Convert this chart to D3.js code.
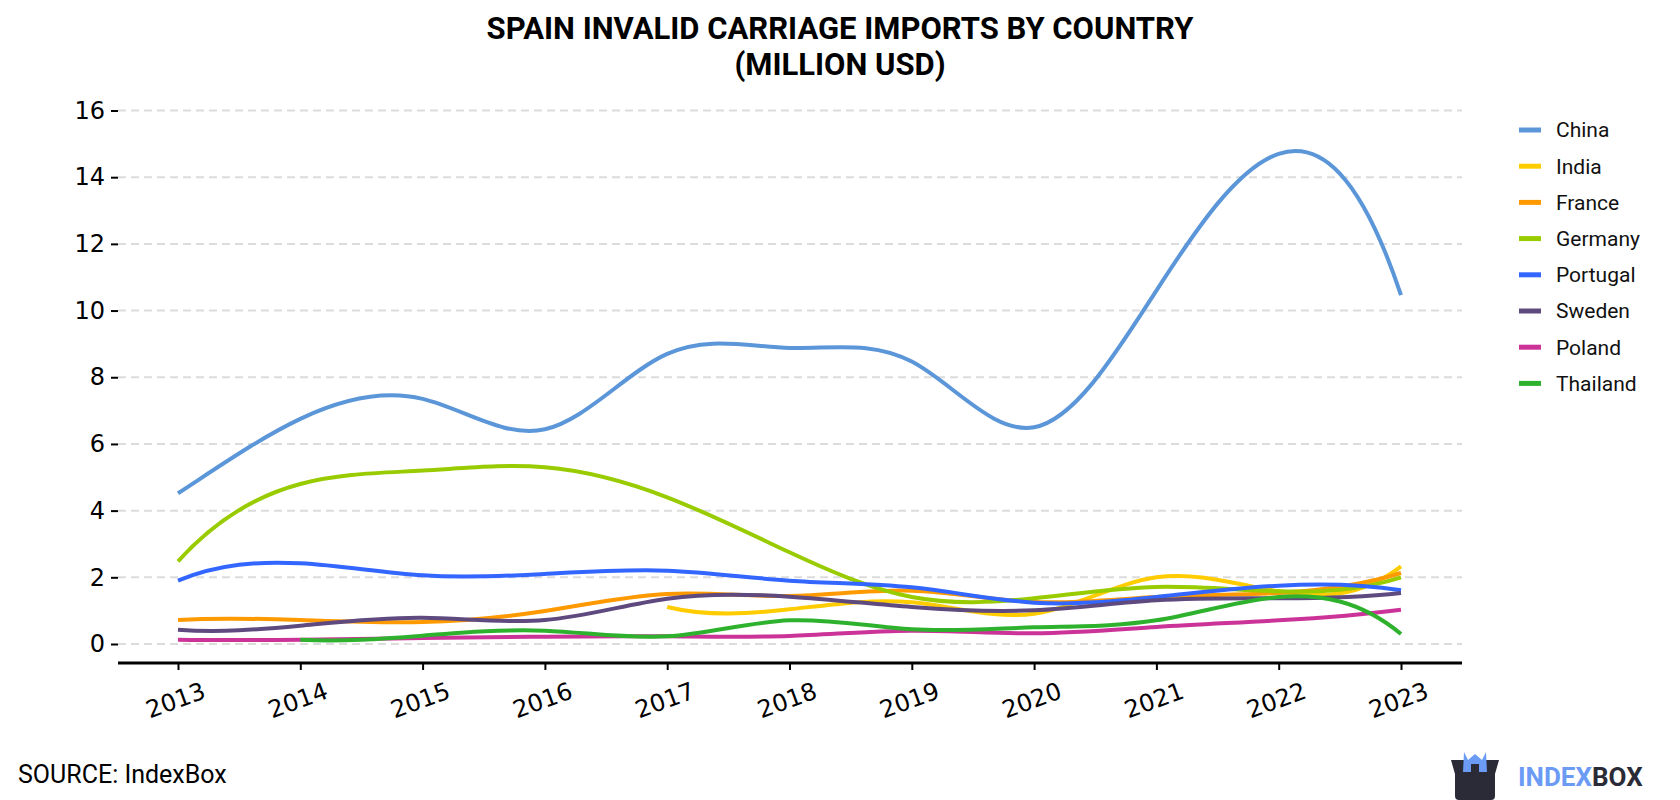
<!DOCTYPE html>
<html>
<head>
<meta charset="utf-8">
<script src="https://cdn.jsdelivr.net/npm/d3@7"></script>
<style>
  body { margin: 0; background: #fff; }
  svg { display: block; }
</style>
</head>
<body>
<svg id="chart" width="1680" height="800"></svg>
<script>
// years on the x axis
const years = [2013, 2014, 2015, 2016, 2017, 2018, 2019, 2020, 2021, 2022, 2023]

// values in million USD, null = no data
const china    = [4.52, 6.75, 7.35, 6.44, 8.7, 8.88, 8.47, 6.5, 10.6, 14.7, 10.46]
const india    = [null, null, null, null, 1.11, 1.04, 1.25, 0.91, 2.0, 1.58, 2.33]
const france   = [0.72, 0.72, 0.66, 0.99, 1.5, 1.44, 1.6, 1.26, 1.41, 1.53, 2.13]
const germany  = [2.48, 4.8, 5.2, 5.3, 4.4, 2.75, 1.41, 1.37, 1.71, 1.58, 2.0]
const portugal = [1.9, 2.42, 2.06, 2.1, 2.2, 1.9, 1.7, 1.24, 1.41, 1.75, 1.61]
const sweden   = [0.43, 0.55, 0.79, 0.72, 1.36, 1.42, 1.11, 1.01, 1.31, 1.37, 1.53]
const poland   = [0.13, 0.13, 0.18, 0.22, 0.23, 0.24, 0.4, 0.32, 0.51, 0.71, 1.03]
const thailand = [null, 0.13, 0.25, 0.4, 0.23, 0.71, 0.44, 0.5, 0.71, 1.41, 0.3]

const yTicks = [0, 2, 4, 6, 8, 10, 12, 14, 16]

const series = [
  { name: 'China', values: china, color: '#5b96d8' },
  { name: 'India', values: india, color: '#ffcc00' },
  { name: 'France', values: france, color: '#ff9900' },
  { name: 'Germany', values: germany, color: '#99cc00' },
  { name: 'Portugal', values: portugal, color: '#3366ff' },
  { name: 'Sweden', values: sweden, color: '#5e4a7e' },
  { name: 'Poland', values: poland, color: '#cc3399' },
  { name: 'Thailand', values: thailand, color: '#2eb22e' },
]

// cubic spline with "not-a-knot" ends, as a d3 curve
function splineSlopes(xs, ys) {
  const n = xs.length
  const h = [], d = []
  for (let i = 0; i < n - 1; i++) {
    h.push(xs[i + 1] - xs[i])
    d.push((ys[i + 1] - ys[i]) / h[i])
  }
  const A = Array.from({ length: n }, () => new Array(n).fill(0))
  const b = new Array(n).fill(0)
  A[0][0] = h[1]; A[0][1] = -(h[0] + h[1]); A[0][2] = h[0]
  for (let i = 1; i < n - 1; i++) {
    A[i][i - 1] = h[i - 1]
    A[i][i] = 2 * (h[i - 1] + h[i])
    A[i][i + 1] = h[i]
    b[i] = 6 * (d[i] - d[i - 1])
  }
  A[n - 1][n - 3] = h[n - 2]; A[n - 1][n - 2] = -(h[n - 3] + h[n - 2]); A[n - 1][n - 1] = h[n - 3]
  // gaussian elimination
  for (let c = 0; c < n; c++) {
    let p = c
    for (let r = c + 1; r < n; r++) if (Math.abs(A[r][c]) > Math.abs(A[p][c])) p = r
    ;[A[c], A[p]] = [A[p], A[c]]
    ;[b[c], b[p]] = [b[p], b[c]]
    for (let r = c + 1; r < n; r++) {
      const f = A[r][c] / A[c][c]
      for (let k = c; k < n; k++) A[r][k] -= f * A[c][k]
      b[r] -= f * b[c]
    }
  }
  const M = new Array(n).fill(0)
  for (let r = n - 1; r >= 0; r--) {
    let s = b[r]
    for (let k = r + 1; k < n; k++) s -= A[r][k] * M[k]
    M[r] = s / A[r][r]
  }
  const m = []
  for (let i = 0; i < n - 1; i++) m.push(d[i] - (h[i] * (2 * M[i] + M[i + 1])) / 6)
  m.push(d[n - 2] + (h[n - 2] * (M[n - 2] + 2 * M[n - 1])) / 6)
  return m
}

function curveNotAKnot(context) {
  let xs, ys
  return {
    areaStart() {},
    areaEnd() {},
    lineStart() { xs = []; ys = [] },
    point(x, y) { xs.push(+x); ys.push(+y) },
    lineEnd() {
      const n = xs.length
      if (!n) return
      context.moveTo(xs[0], ys[0])
      if (n < 4) {
        for (let i = 1; i < n; i++) context.lineTo(xs[i], ys[i])
        return
      }
      const m = splineSlopes(xs, ys)
      for (let i = 0; i < n - 1; i++) {
        const h = xs[i + 1] - xs[i]
        context.bezierCurveTo(
          xs[i] + h / 3, ys[i] + (m[i] * h) / 3,
          xs[i + 1] - h / 3, ys[i + 1] - (m[i + 1] * h) / 3,
          xs[i + 1], ys[i + 1]
        )
      }
    },
  }
}

const svg = d3.select('#chart')

// background
svg.append('rect').attr('width', 1680).attr('height', 800).attr('fill', '#fff')

// title
const title = svg.append('text')
  .attr('text-anchor', 'middle')
  .attr('font-family', 'Roboto, sans-serif')
  .attr('font-weight', 'bold')
  .attr('font-size', 31)
  .attr('fill', '#000')
title.append('tspan').attr('x', 840).attr('y', 39).text('SPAIN INVALID CARRIAGE IMPORTS BY COUNTRY')
title.append('tspan').attr('x', 840).attr('y', 75).text('(MILLION USD)')

// scales
const x = d3.scaleLinear().domain([2013, 2023]).range([178, 1401])
const y = d3.scaleLinear().domain([0, 16]).range([644, 110.5])
const plotLeft = 118
const plotRight = 1462
const axisY = 663

// grid lines
svg.append('g')
  .attr('id', 'grid')
  .selectAll('line')
  .data(yTicks)
  .join('line')
  .attr('x1', plotLeft)
  .attr('x2', plotRight)
  .attr('y1', (d) => y(d))
  .attr('y2', (d) => y(d))
  .attr('stroke', '#dcdcdc')
  .attr('stroke-width', 2)
  .attr('stroke-dasharray', '8,5')

// y axis: tick marks and labels only
const yAxis = svg.append('g')
  .attr('transform', `translate(${plotLeft},0)`)
  .call(d3.axisLeft(y).tickValues(yTicks).tickSize(7).tickPadding(6))
yAxis.select('.domain').remove()
yAxis.selectAll('.tick line').attr('stroke', '#000').attr('stroke-width', 2)
yAxis.selectAll('.tick text')
  .attr('font-family', 'DejaVu Sans, sans-serif')
  .attr('font-size', 24)
  .attr('fill', '#000')

// x axis
const xAxis = svg.append('g')
  .attr('transform', `translate(0,${axisY})`)
  .call(d3.axisBottom(x).tickValues(years).tickFormat(d3.format('d')).tickSize(7).tickSizeOuter(0))
xAxis.select('.domain')
  .attr('d', `M${plotLeft},0H${plotRight}`)
  .attr('stroke', '#000')
  .attr('stroke-width', 3)
xAxis.selectAll('.tick line').attr('stroke', '#000').attr('stroke-width', 2)
xAxis.selectAll('.tick text')
  .attr('font-family', 'DejaVu Sans, sans-serif')
  .attr('font-size', 24)
  .attr('fill', '#000')
  .attr('text-anchor', 'middle')
  .attr('y', 0)
  .attr('dy', 0)
  .attr('transform', 'translate(0,45) rotate(-20)')

// lines
const line = d3.line()
  .defined((d) => d.value != null)
  .x((d) => x(d.year))
  .y((d) => y(d.value))
  .curve(curveNotAKnot)

svg.append('g')
  .attr('id', 'lines')
  .selectAll('path')
  .data(series)
  .join('path')
  .attr('d', (s) => line(years.map((yr, i) => ({ year: yr, value: s.values[i] }))))
  .attr('fill', 'none')
  .attr('stroke', (s) => s.color)
  .attr('stroke-width', 4)

// legend
const legend = svg.append('g')
  .attr('id', 'legend')
  .selectAll('g')
  .data(series)
  .join('g')
  .attr('transform', (d, i) => `translate(1519,${130 + i * 36.2})`)
legend.append('line')
  .attr('x1', 0).attr('x2', 22)
  .attr('stroke', (d) => d.color)
  .attr('stroke-width', 5)
legend.append('text')
  .attr('x', 37)
  .attr('dy', '0.35em')
  .attr('font-family', 'Roboto, sans-serif')
  .attr('font-size', 21)
  .attr('fill', '#111')
  .text((d) => d.name)

// footer
svg.append('text')
  .attr('x', 18)
  .attr('y', 783)
  .attr('font-family', 'Roboto, sans-serif')
  .attr('font-size', 25)
  .attr('fill', '#000')
  .text('SOURCE: IndexBox')

const logo = svg.append('g').attr('transform', 'translate(1451,752)')
logo.append('path')
  .attr('d', 'M0,8 L48,8 L44,22 L44,44 Q44,48 40,48 L8,48 Q4,48 4,44 L4,22 Z')
  .attr('fill', '#2a2b36')
logo.append('path')
  .attr('d', 'M13,0 L17,8 L24,2 L31,8 L35,0 L36,20 L28,20 L28,12 L20,12 L20,20 L12,20 Z')
  .attr('fill', '#6b9bf5')
const logoText = svg.append('text')
  .attr('x', 1518)
  .attr('y', 786)
  .attr('font-family', 'Roboto, sans-serif')
  .attr('font-weight', 'bold')
  .attr('font-size', 26)
logoText.append('tspan').attr('fill', '#6b9bf5').text('INDEX')
logoText.append('tspan').attr('fill', '#2a2b36').text('BOX')
</script>
</body>
</html>
